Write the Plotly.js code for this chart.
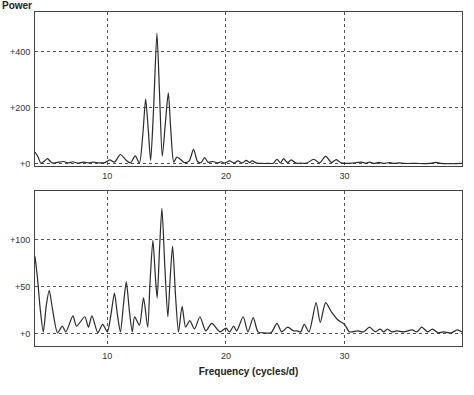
<!DOCTYPE html>
<html>
<head>
<meta charset="utf-8">
<script src="https://cdn.plot.ly/plotly-3.0.1.min.js"></script>
<style>html,body{margin:0;padding:0;background:#fff;}#chart{width:474px;height:395px;}</style>
</head>
<body>
<div id="chart"></div>
<script>
// Top panel: power spectrum
const freqTop = [3.9,4.15,4.4,4.7,4.95,5.2,5.4,5.8,6.3,6.7,7.1,7.5,8.0,8.4,8.8,9.3,9.8,10.2,10.6,11.1,11.6,11.95,12.35,12.7,13.0,13.23,13.45,13.65,13.9,14.18,14.4,14.63,14.9,15.14,15.35,15.6,15.87,16.2,16.5,16.9,17.27,17.6,17.9,18.2,18.5,18.9,19.3,19.6,19.9,20.3,20.7,21.0,21.4,21.7,22.0,22.2,22.6,23.0,23.5,24.0,24.3,24.6,24.85,25.2,25.5,25.9,26.3,26.8,27.4,27.9,28.4,28.9,29.3,29.7,30.1,30.6,31.4,31.8,32.1,32.5,32.9,33.3,33.8,34.2,34.6,35.0,36.0,37.2,37.7,38.1,39.0,39.9];
const powerTop = [42,25,2,10,18,8,2,5,8,3,7,2,6,3,6,3,4,14,6,33,12,3,28,2,110,231,120,12,200,466,250,27,150,253,120,6,24,14,4,10,51,8,4,22,5,8,3,7,2,10,3,10,3,12,4,10,2,1,1,2,16,3,18,4,14,2,2,2,16,3,27,4,15,3,1,2,6,2,6,1,5,1,4,1,3,1,1,1,5,1,0,1];

// Bottom panel: power spectrum
const freqBottom = [3.9,4.1,4.35,4.6,4.85,5.1,5.35,5.8,6.2,6.5,7.1,7.4,8.1,8.4,8.7,9.2,9.6,10.0,10.3,10.6,10.85,11.1,11.35,11.6,11.85,12.1,12.3,12.7,13.05,13.4,13.6,13.84,14.05,14.2,14.4,14.6,14.85,15.1,15.3,15.5,15.75,16.0,16.3,16.6,16.95,17.35,17.8,18.3,18.8,19.5,20.0,20.3,20.65,20.9,21.45,21.85,22.3,22.7,23.1,23.8,24.3,24.7,25.2,25.7,26.0,26.3,26.6,27.0,27.6,27.95,28.4,28.9,29.5,30.0,30.4,31.1,31.6,32.1,32.6,33.0,33.3,33.6,34.0,34.4,35.0,35.7,36.1,36.5,37.0,37.4,37.9,38.3,39.0,39.5,39.9];
const powerBottom = [82,60,25,2,30,46,28,1,8,2,19,8,18,7,19,1,10,2,20,43,20,2,30,55,25,2,18,9,38,7,55,99,60,38,90,133,70,18,60,93,40,2,29,7,14,5,18,3,11,2,6,2,8,3,18,2,17,2,1,1,11,2,7,3,3,2,10,2,33,12,33,23,14,10,2,3,2,7,2,5,2,5,2,3,2,4,2,7,2,5,1,2,1,4,2];

const xTickVals = [10,20,30];
const xTickText = ['10','20','30'];
const yTopVals = [0,200,400];
const yTopText = ['+0','+200','+400'];
const yBotVals = [0,50,100];
const yBotText = ['+0','+50','+100'];

const lineStyle = {color:'#2a2a2a', width:1.2, shape:'spline', smoothing:0.7};
const tickFont = {family:'Liberation Sans, Arial, sans-serif', size:9, color:'#333'};

const traces = [
  {x:freqTop, y:powerTop, xaxis:'x', yaxis:'y', type:'scatter', mode:'lines', line:lineStyle, hoverinfo:'skip'},
  {x:freqBottom, y:powerBottom, xaxis:'x2', yaxis:'y2', type:'scatter', mode:'lines', line:lineStyle, hoverinfo:'skip'}
];

const xAxisCommon = {
  range:[3.9,39.9], tickvals:xTickVals, ticktext:xTickText, ticks:'', showline:true, mirror:true,
  linecolor:'#444', linewidth:1, showgrid:true, gridcolor:'#555', griddash:'dot', gridwidth:1,
  zeroline:false, tickfont:tickFont, ticklabelstandoff:1
};
const yAxisCommon = {
  ticks:'', showline:true, mirror:true, linecolor:'#444', linewidth:1, showgrid:true,
  gridcolor:'#555', griddash:'dot', gridwidth:1, zeroline:false, tickfont:tickFont, ticklabelstandoff:2
};

const layout = {
  width:474, height:395,
  margin:{l:35, r:12, t:12, b:49},
  paper_bgcolor:'#fff', plot_bgcolor:'#fff',
  showlegend:false,
  xaxis: Object.assign({}, xAxisCommon, {domain:[0,1], anchor:'y'}),
  yaxis: Object.assign({}, yAxisCommon, {domain:[0.539,1], range:[-8,542], tickvals:yTopVals, ticktext:yTopText, anchor:'x'}),
  xaxis2: Object.assign({}, xAxisCommon, {domain:[0,1], anchor:'y2',
    title:{text:'<b>Frequency (cycles/d)</b>', font:{family:'Liberation Sans, Arial, sans-serif', size:10, color:'#222'}, standoff:8}}),
  yaxis2: Object.assign({}, yAxisCommon, {domain:[0,0.463], range:[-13,151], tickvals:yBotVals, ticktext:yBotText, anchor:'x2'}),
  annotations:[
    {text:'<b>Power</b>', xref:'paper', yref:'paper', x:0, y:1, xanchor:'right', yanchor:'bottom',
     xshift:-1, yshift:-1, showarrow:false, font:{family:'Liberation Sans, Arial, sans-serif', size:10, color:'#222'}}
  ]
};

Plotly.newPlot('chart', traces, layout, {displayModeBar:false, staticPlot:true});
</script>
</body>
</html>
